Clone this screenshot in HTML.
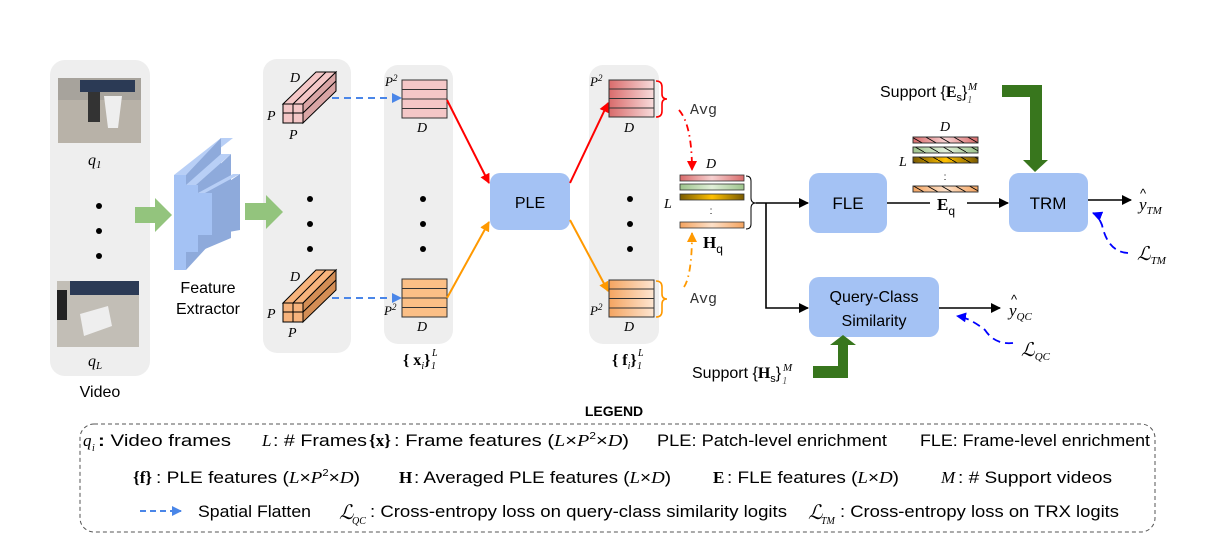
<!DOCTYPE html>
<html><head><meta charset="utf-8"><style>
html,body{margin:0;padding:0;background:#fff;}
svg{display:block;font-family:"Liberation Sans",sans-serif;}
.m{font-family:"Liberation Serif",serif;font-style:italic;}
.b{font-family:"Liberation Serif",serif;font-weight:bold;}
</style></head><body>
<svg width="1229" height="535" viewBox="0 0 1229 535" xmlns="http://www.w3.org/2000/svg">
<defs>
<marker id="ak" markerWidth="10" markerHeight="10" refX="9" refY="5" orient="auto" markerUnits="userSpaceOnUse"><path d="M0,0 L10,5 L0,10z" fill="#000"/></marker>
<marker id="ar" markerWidth="10" markerHeight="10" refX="9" refY="5" orient="auto" markerUnits="userSpaceOnUse"><path d="M0,0 L10,5 L0,10z" fill="#f00"/></marker>
<marker id="ao" markerWidth="10" markerHeight="10" refX="9" refY="5" orient="auto" markerUnits="userSpaceOnUse"><path d="M0,0 L10,5 L0,10z" fill="#f90"/></marker>
<marker id="ab" markerWidth="10" markerHeight="10" refX="9" refY="5" orient="auto" markerUnits="userSpaceOnUse"><path d="M0,0 L10,5 L0,10z" fill="#4a86e8"/></marker>
<marker id="abb" markerWidth="10" markerHeight="10" refX="9" refY="5" orient="auto" markerUnits="userSpaceOnUse"><path d="M0,0 L10,5 L0,10z" fill="#00f"/></marker>
<linearGradient id="gr" x1="0" x2="1"><stop offset="0" stop-color="#d96b6b"/><stop offset="1" stop-color="#f8dcdc"/></linearGradient>
<linearGradient id="go" x1="0" x2="1"><stop offset="0" stop-color="#f4a460"/><stop offset="1" stop-color="#fde6d2"/></linearGradient>
<linearGradient id="hr" x1="0" x2="1"><stop offset="0" stop-color="#d96b6b"/><stop offset=".5" stop-color="#f6d0d0"/><stop offset="1" stop-color="#d96b6b"/></linearGradient>
<linearGradient id="hg" x1="0" x2="1"><stop offset="0" stop-color="#9dc48c"/><stop offset=".5" stop-color="#e0efd8"/><stop offset="1" stop-color="#9dc48c"/></linearGradient>
<linearGradient id="hy" x1="0" x2="1"><stop offset="0" stop-color="#7a5a00"/><stop offset=".5" stop-color="#ffc000"/><stop offset="1" stop-color="#7a5a00"/></linearGradient>
<linearGradient id="ho" x1="0" x2="1"><stop offset="0" stop-color="#f4a460"/><stop offset=".5" stop-color="#fde0c8"/><stop offset="1" stop-color="#f4a460"/></linearGradient>
<pattern id="hat" width="14" height="8" patternUnits="userSpaceOnUse"><path d="M0,0 L14,8" stroke="#000" stroke-width="0.8"/></pattern>
</defs>

<rect x="50" y="60" width="100" height="316" rx="15" fill="#eee"/>
<rect x="263" y="59" width="88" height="294" rx="14" fill="#eee"/>
<rect x="384" y="65" width="69" height="279" rx="14" fill="#eee"/>
<rect x="589" y="65" width="70" height="279" rx="14" fill="#eee"/>

<rect x="58" y="78" width="83" height="65" fill="#b8b2a8"/>
<rect x="58" y="78" width="83" height="22" fill="#a7a39c"/>
<rect x="80" y="80" width="55" height="12" fill="#2b3a55"/>
<rect x="88" y="92" width="12" height="30" fill="#333"/>
<path d="M104,96 L122,96 L118,128 L108,128z" fill="#eee"/>
<rect x="57" y="281" width="82" height="66" fill="#c2beb6"/>
<rect x="70" y="281" width="69" height="14" fill="#2b3a55"/>
<rect x="57" y="290" width="10" height="30" fill="#222"/>
<path d="M80,314 L108,306 L112,326 L84,336z" fill="#eee"/>
<text x="88" y="165" class="m" font-size="16">q<tspan font-size="11" dy="3">1</tspan></text>
<text x="88" y="366" class="m" font-size="16">q<tspan font-size="11" dy="3">L</tspan></text>
<text x="100" y="397" font-size="16" text-anchor="middle">Video</text>
<g fill="#000"><circle cx="99" cy="206" r="3"/><circle cx="99" cy="231" r="3"/><circle cx="99" cy="256" r="3"/></g>

<path d="M135,207 L155,207 L155,198 L172,215 L155,232 L155,223 L135,223z" fill="#93c47d"/>
<path d="M245,203 L266,203 L266,195 L283,212 L266,229 L266,220 L245,220z" fill="#93c47d"/>

<path d="M174,175 L221,138 L233,138 L186,175z" fill="#b8cff6"/>
<path d="M174,175 L186,175 L186,270 L174,270z" fill="#a4c2f4"/>
<path d="M186,175 L221,138 L221,232 L186,270z" fill="#8eaadb"/>
<path d="M186,185 L221,154 L231,154 L196,185z" fill="#b8cff6"/>
<path d="M186,185 L198,185 L198,252 L186,252z" fill="#a4c2f4"/>
<path d="M198,185 L231,154 L231,238 L198,252z" fill="#8eaadb"/>
<path d="M198,193 L233,174 L240,174 L205,193z" fill="#b8cff6"/>
<path d="M198,193 L212,193 L212,235 L198,235z" fill="#a4c2f4"/>
<path d="M212,193 L240,174 L240,230 L212,235z" fill="#8eaadb"/>
<text x="208" y="293" font-size="16" text-anchor="middle">Feature</text>
<text x="208" y="314" font-size="16" text-anchor="middle">Extractor</text>

<g stroke="#000" stroke-width="1">
<path d="M283,104 L316,72 L336,72 L303,104z" fill="#f4c7c7"/>
<path d="M303,104 L336,72 L336,91 L303,123z" fill="#d9a5a5"/>
<rect x="283" y="104" width="20" height="19" fill="#f4c7c7"/>
<line x1="293" y1="104" x2="293" y2="123"/><line x1="283" y1="113" x2="303" y2="113"/>
<line x1="293" y1="104" x2="326" y2="72"/><line x1="303" y1="113" x2="336" y2="81"/>
<path d="M283,303 L316,270 L336,270 L303,303z" fill="#f7b37c"/>
<path d="M303,303 L336,270 L336,290 L303,322z" fill="#d38d55"/>
<rect x="283" y="303" width="20" height="19" fill="#f7b37c"/>
<line x1="293" y1="303" x2="293" y2="322"/><line x1="283" y1="312" x2="303" y2="312"/>
<line x1="293" y1="303" x2="326" y2="270"/><line x1="303" y1="312" x2="336" y2="280"/>
</g>
<text x="290" y="82" class="m" font-size="14">D</text><text x="267" y="120" class="m" font-size="14">P</text><text x="289" y="139" class="m" font-size="14">P</text>
<text x="290" y="281" class="m" font-size="14">D</text><text x="267" y="318" class="m" font-size="14">P</text><text x="288" y="337" class="m" font-size="14">P</text>
<g fill="#000"><circle cx="310" cy="199" r="3"/><circle cx="310" cy="224" r="3"/><circle cx="310" cy="249" r="3"/></g>

<line x1="332" y1="98" x2="401" y2="98" stroke="#4a86e8" stroke-width="2" stroke-dasharray="7,5" marker-end="url(#ab)"/>
<line x1="332" y1="298" x2="401" y2="298" stroke="#4a86e8" stroke-width="2" stroke-dasharray="7,5" marker-end="url(#ab)"/>

<g stroke="#333" stroke-width="1">
<rect x="402" y="80" width="45" height="38" fill="#f4c7c7"/>
<line x1="402" y1="89.5" x2="447" y2="89.5"/><line x1="402" y1="99" x2="447" y2="99"/><line x1="402" y1="108.5" x2="447" y2="108.5"/>
<rect x="402" y="279" width="45" height="38" fill="#fbbf86"/>
<line x1="402" y1="288.5" x2="447" y2="288.5"/><line x1="402" y1="298" x2="447" y2="298"/><line x1="402" y1="307.5" x2="447" y2="307.5"/>
</g>
<text x="385" y="86" class="m" font-size="13">P<tspan font-size="9" dy="-5">2</tspan></text>
<text x="417" y="132" class="m" font-size="14">D</text>
<text x="384" y="315" class="m" font-size="13">P<tspan font-size="9" dy="-5">2</tspan></text>
<text x="417" y="331" class="m" font-size="14">D</text>
<g fill="#000"><circle cx="423" cy="199" r="3"/><circle cx="423" cy="224" r="3"/><circle cx="423" cy="249" r="3"/></g>
<text x="403" y="365" class="b" font-size="16">{ x<tspan font-size="10" font-style="italic" font-weight="normal" dy="4">i</tspan><tspan dy="-4">}</tspan></text>
<text x="432" y="356" class="m" font-size="10">L</text><text x="431" y="369" class="m" font-size="10">1</text>

<line x1="447" y1="100" x2="489" y2="183" stroke="#f00" stroke-width="2" marker-end="url(#ar)"/>
<line x1="447" y1="298" x2="489" y2="222" stroke="#f90" stroke-width="2" marker-end="url(#ao)"/>

<rect x="490" y="173" width="80" height="57" rx="10" fill="#a4c2f4"/>
<text x="530" y="208" font-size="16" text-anchor="middle">PLE</text>

<line x1="570" y1="183" x2="608" y2="103" stroke="#f00" stroke-width="2" marker-end="url(#ar)"/>
<line x1="570" y1="220" x2="608" y2="291" stroke="#f90" stroke-width="2" marker-end="url(#ao)"/>

<g stroke="#333" stroke-width="1">
<rect x="609" y="80" width="45" height="37" fill="url(#gr)"/>
<line x1="609" y1="89" x2="654" y2="89"/><line x1="609" y1="98.5" x2="654" y2="98.5"/><line x1="609" y1="108" x2="654" y2="108"/>
<rect x="609" y="280" width="45" height="37" fill="url(#go)"/>
<line x1="609" y1="289" x2="654" y2="289"/><line x1="609" y1="298.5" x2="654" y2="298.5"/><line x1="609" y1="308" x2="654" y2="308"/>
</g>
<text x="590" y="86" class="m" font-size="13">P<tspan font-size="9" dy="-5">2</tspan></text>
<text x="624" y="132" class="m" font-size="14">D</text>
<text x="590" y="315" class="m" font-size="13">P<tspan font-size="9" dy="-5">2</tspan></text>
<text x="624" y="331" class="m" font-size="14">D</text>
<g fill="#000"><circle cx="630" cy="199" r="3"/><circle cx="630" cy="224" r="3"/><circle cx="630" cy="249" r="3"/></g>
<text x="612" y="365" class="b" font-size="16">{ f<tspan font-size="10" font-style="italic" font-weight="normal" dy="4">i</tspan><tspan dy="-4">}</tspan></text>
<text x="638" y="356" class="m" font-size="10">L</text><text x="637" y="369" class="m" font-size="10">1</text>

<path d="M656,81 Q662,81 662,87 L662,94 Q662,99 667,99 Q662,99 662,104 L662,111 Q662,117 656,117" fill="none" stroke="#f00" stroke-width="1.6"/>
<path d="M656,281 Q662,281 662,287 L662,294 Q662,299 667,299 Q662,299 662,304 L662,311 Q662,317 656,317" fill="none" stroke="#f90" stroke-width="1.6"/>
<text x="690" y="114" font-family="Liberation Mono,monospace" font-size="15" fill="#333">Avg</text>
<text x="690" y="303" font-family="Liberation Mono,monospace" font-size="15" fill="#333">Avg</text>
<path d="M679,110 Q692,125 692,170" fill="none" stroke="#f00" stroke-width="1.8" stroke-dasharray="7,4,1.5,4" marker-end="url(#ar)"/>
<path d="M684,287 Q692,275 692,233" fill="none" stroke="#f90" stroke-width="1.8" stroke-dasharray="7,4,1.5,4" marker-end="url(#ao)"/>

<g stroke="#333" stroke-width="0.8">
<rect x="680" y="175" width="64" height="6" fill="url(#hr)"/>
<rect x="680" y="184" width="64" height="6" fill="url(#hg)"/>
<rect x="680" y="194" width="64" height="6" fill="url(#hy)"/>
<rect x="680" y="222" width="64" height="6" fill="url(#ho)"/>
</g>
<text x="711" y="168" class="m" font-size="14" text-anchor="middle">D</text>
<text x="664" y="208" class="m" font-size="14">L</text>
<text x="711" y="214" font-size="10" text-anchor="middle">:</text>
<text x="703" y="248" class="b" font-size="17">H<tspan font-family="Liberation Sans" font-weight="normal" font-size="12" dy="5">q</tspan></text>
<path d="M746,176 Q751,176 751,181 L751,198 Q751,203 756,203 Q751,203 751,208 L751,224 Q751,229 746,229" fill="none" stroke="#000" stroke-width="1"/>

<line x1="756" y1="203" x2="808" y2="203" stroke="#000" stroke-width="1.6" marker-end="url(#ak)"/>
<polyline points="766,203 766,308 808,308" fill="none" stroke="#000" stroke-width="1.6" marker-end="url(#ak)"/>

<rect x="809" y="173" width="78" height="60" rx="10" fill="#a4c2f4"/>
<text x="848" y="209" font-size="17" text-anchor="middle">FLE</text>
<rect x="809" y="277" width="130" height="60" rx="10" fill="#a4c2f4"/>
<text x="874" y="302" font-size="16" text-anchor="middle">Query-Class</text>
<text x="874" y="326" font-size="16" text-anchor="middle">Similarity</text>

<line x1="887" y1="203" x2="930" y2="203" stroke="#000" stroke-width="1.6"/>
<line x1="967" y1="203" x2="1008" y2="203" stroke="#000" stroke-width="1.6" marker-end="url(#ak)"/>
<text x="937" y="210" class="b" font-size="17">E<tspan font-family="Liberation Sans" font-weight="normal" font-size="12" dy="5">q</tspan></text>

<g stroke="#333" stroke-width="0.8">
<rect x="913" y="137" width="65" height="6" fill="url(#hr)"/><rect x="913" y="137" width="65" height="6" fill="url(#hat)"/>
<rect x="913" y="147" width="65" height="6" fill="url(#hg)"/><rect x="913" y="147" width="65" height="6" fill="url(#hat)"/>
<rect x="913" y="157" width="65" height="6" fill="url(#hy)"/><rect x="913" y="157" width="65" height="6" fill="url(#hat)"/>
<rect x="913" y="186" width="65" height="6" fill="url(#ho)"/><rect x="913" y="186" width="65" height="6" fill="url(#hat)"/>
</g>
<text x="945" y="131" class="m" font-size="14" text-anchor="middle">D</text>
<text x="899" y="166" class="m" font-size="14">L</text>
<text x="945" y="180" font-size="10" text-anchor="middle">:</text>

<text x="880" y="97" font-size="16">Support {<tspan font-family="Liberation Serif" font-weight="bold">E</tspan><tspan font-size="11" dy="4">s</tspan><tspan dy="-4">}</tspan></text>
<text x="968" y="90" class="m" font-size="11">M</text><text x="967" y="103" class="m" font-size="11" fill="#666">1</text>
<path d="M1002,85 L1042,85 L1042,160 L1048,160 L1035,172 L1023,160 L1030,160 L1030,97 L1002,97z" fill="#38761d"/>

<rect x="1009" y="173" width="79" height="59" rx="10" fill="#a4c2f4"/>
<text x="1048" y="209" font-size="17" text-anchor="middle">TRM</text>
<line x1="1088" y1="200" x2="1131" y2="200" stroke="#000" stroke-width="1.6" marker-end="url(#ak)"/>
<text x="1139" y="210" class="m" font-size="17">y<tspan font-size="11" dy="4">TM</tspan></text>
<text x="1140" y="198" font-size="13">^</text>
<path d="M1128,253 Q1108,252 1102,225 Q1098,215 1093,213" fill="none" stroke="#00f" stroke-width="1.8" stroke-dasharray="8,5" marker-end="url(#abb)"/>
<text x="1137" y="260" class="m" font-size="19">ℒ<tspan font-size="11" dy="4">TM</tspan></text>

<line x1="939" y1="308" x2="1000" y2="308" stroke="#000" stroke-width="1.6" marker-end="url(#ak)"/>
<text x="1009" y="316" class="m" font-size="17">y<tspan font-size="11" dy="4">QC</tspan></text>
<text x="1011" y="304" font-size="13">^</text>
<path d="M1013,343 Q995,345 985,330 Q970,318 957,316" fill="none" stroke="#00f" stroke-width="1.8" stroke-dasharray="8,5" marker-end="url(#abb)"/>
<text x="1021" y="356" class="m" font-size="19">ℒ<tspan font-size="11" dy="4">QC</tspan></text>

<text x="692" y="378" font-size="16">Support {<tspan font-family="Liberation Serif" font-weight="bold">H</tspan><tspan font-size="11" dy="4">s</tspan><tspan dy="-4">}</tspan></text>
<text x="783" y="371" class="m" font-size="11">M</text><text x="782" y="384" class="m" font-size="11" fill="#666">1</text>
<path d="M813,366 L838,366 L838,345 L830,345 L843,335 L856,345 L848,345 L848,378 L813,378z" fill="#38761d"/>

<text x="614" y="416" font-size="14" font-weight="bold" text-anchor="middle">LEGEND</text>
<rect x="80" y="424" width="1075" height="108" rx="14" fill="none" stroke="#555" stroke-width="1" stroke-dasharray="4,3"/>
<g font-size="17">
<text x="83" y="446" class="m">q</text><text x="92" y="451" class="m" font-size="10">i</text>
<text x="98" y="446" textLength="133" lengthAdjust="spacingAndGlyphs"><tspan font-weight="bold">:</tspan> Video frames</text>
<text x="262" y="446" class="m">L</text><text x="273" y="446" textLength="94" lengthAdjust="spacingAndGlyphs">: # Frames</text>
<text x="369" y="446" class="b">{x}</text>
<text x="394" y="446" textLength="235" lengthAdjust="spacingAndGlyphs">: Frame features (<tspan class="m">L</tspan>×<tspan class="m">P</tspan><tspan font-size="10" dy="-7">2</tspan><tspan dy="7">×</tspan><tspan class="m">D</tspan>)</text>
<text x="657" y="446" textLength="230" lengthAdjust="spacingAndGlyphs">PLE: Patch-level enrichment</text>
<text x="920" y="446" textLength="230" lengthAdjust="spacingAndGlyphs">FLE: Frame-level enrichment</text>

<text x="133" y="483" class="b">{f}</text>
<text x="156" y="483" textLength="204" lengthAdjust="spacingAndGlyphs">: PLE features (<tspan class="m">L</tspan>×<tspan class="m">P</tspan><tspan font-size="10" dy="-7">2</tspan><tspan dy="7">×</tspan><tspan class="m">D</tspan>)</text>
<text x="399" y="483" class="b">H</text>
<text x="414" y="483" textLength="257" lengthAdjust="spacingAndGlyphs">: Averaged PLE features (<tspan class="m">L</tspan>×<tspan class="m">D</tspan>)</text>
<text x="713" y="483" class="b">E</text>
<text x="727" y="483" textLength="172" lengthAdjust="spacingAndGlyphs">: FLE features (<tspan class="m">L</tspan>×<tspan class="m">D</tspan>)</text>
<text x="941" y="483" class="m">M</text>
<text x="958" y="483" textLength="154" lengthAdjust="spacingAndGlyphs">: # Support videos</text>

<text x="198" y="517" textLength="113" lengthAdjust="spacingAndGlyphs">Spatial Flatten</text>
<text x="339" y="519" class="m" font-size="20">ℒ</text><text x="352" y="524" class="m" font-size="10">QC</text>
<text x="370" y="517" textLength="417" lengthAdjust="spacingAndGlyphs">: Cross-entropy loss on query-class similarity logits</text>
<text x="808" y="519" class="m" font-size="20">ℒ</text><text x="821" y="524" class="m" font-size="10">TM</text>
<text x="840" y="517" textLength="279" lengthAdjust="spacingAndGlyphs">: Cross-entropy loss on TRX logits</text>
</g>
<line x1="140" y1="511" x2="181" y2="511" stroke="#4a86e8" stroke-width="2" stroke-dasharray="6,4" marker-end="url(#ab)"/>
</svg>
</body></html>
